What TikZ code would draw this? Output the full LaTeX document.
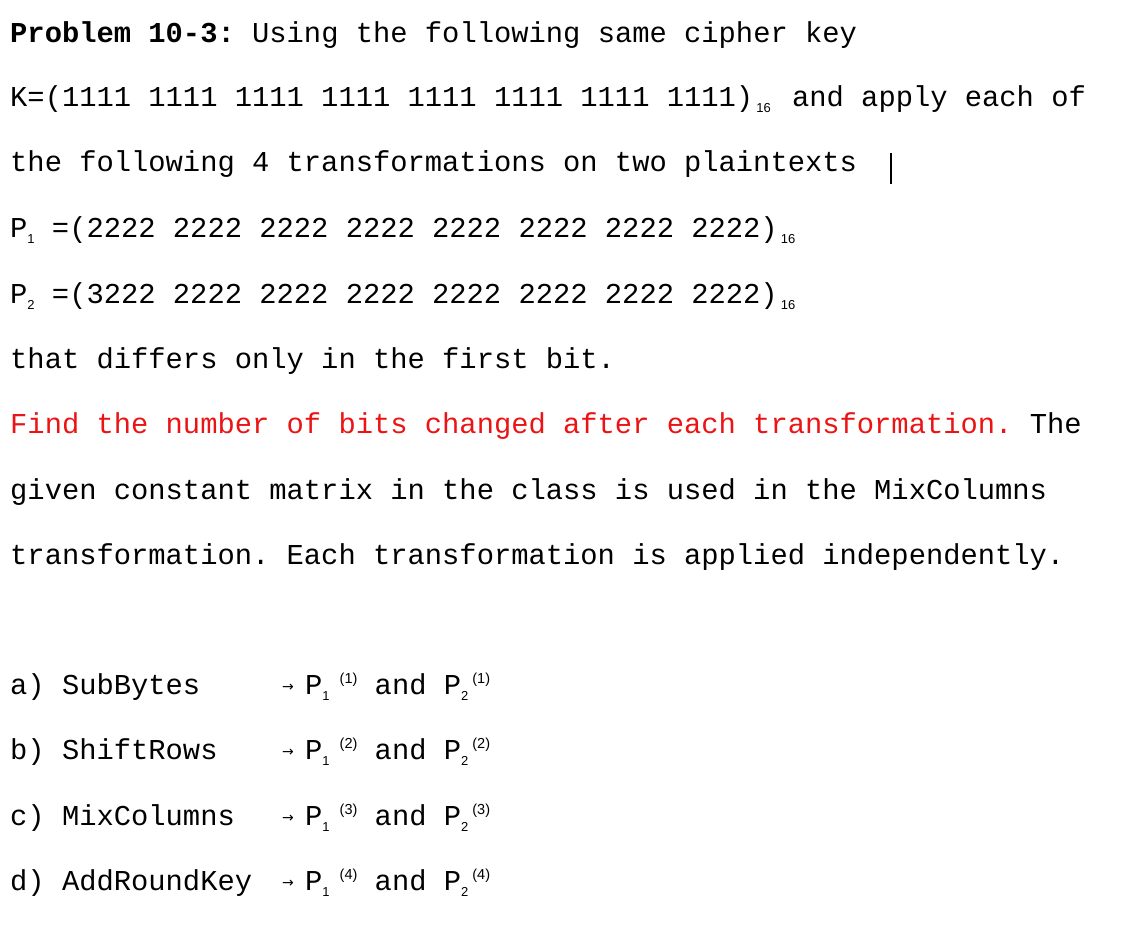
\documentclass[tikz,border=0pt]{standalone}
\usepackage{fontspec}
\setmonofont{Liberation Mono}
\newfontfamily\sansf{Liberation Sans}
\newfontfamily\arrf{DejaVu Sans}
\definecolor{redtxt}{RGB}{235,20,20}
\newcommand{\sbs}[1]{\raisebox{-6pt}{\sansf\fontsize{13}{13}\selectfont #1}}
\newcommand{\sps}[1]{\raisebox{11pt}{\sansf\fontsize{14.5}{14.5}\selectfont #1}}
\begin{document}
\begin{tikzpicture}[x=1pt,y=-1pt,
  txt/.style={anchor=base west,inner sep=0pt,font=\ttfamily\fontsize{28.8}{30}\selectfont}]
\useasboundingbox (0,0) rectangle (1122,928);
\node[txt] (l1) at (10,43) {\textbf{Problem 10-3:} Using the following same cipher key};
\node[txt] (l2) at (10,107) {K=(1111 1111 1111 1111 1111 1111 1111 1111)\hspace{3pt}\sbs{16}\hspace{4pt} and apply each of};
\node[txt] (l3) at (10,172) {the following 4 transformations on two plaintexts};
\draw[line width=2.2pt] (891,153) -- (891,184);
\node[txt] (l4) at (10,237) {P\sbs{1} =(2222 2222 2222 2222 2222 2222 2222 2222)\hspace{3pt}\sbs{16}};
\node[txt] (l5) at (10,303) {P\sbs{2} =(3222 2222 2222 2222 2222 2222 2222 2222)\hspace{3pt}\sbs{16}};
\node[txt] (l6) at (10,368) {that differs only in the first bit.};
\node[txt] (l7) at (10,433) {\textcolor{redtxt}{Find the number of bits changed after each transformation.} The};
\node[txt] (l8) at (10,499) {given constant matrix in the class is used in the MixColumns};
\node[txt] (l9) at (10,564) {transformation. Each transformation is applied independently.};
\foreach \lab/\nm/\y/\ax/\k in {a/SubBytes/694/282/1, b/ShiftRows/759/282/2, c/MixColumns/825/282/3, d/AddRoundKey/890/282/4}{
  \node[txt] (n\k) at (10,\y) {\lab) \nm};
  \node[txt] (a\k) at (\ax,\y-3) {\arrf\fontsize{14}{14}\selectfont →};
  \node[txt] (p\k) at (305,\y) {P\sbs{1}\hspace{10pt}\sps{(\k)} and P\sbs{2}\hspace{4pt}\sps{(\k)}};
}
\end{tikzpicture}
\end{document}
